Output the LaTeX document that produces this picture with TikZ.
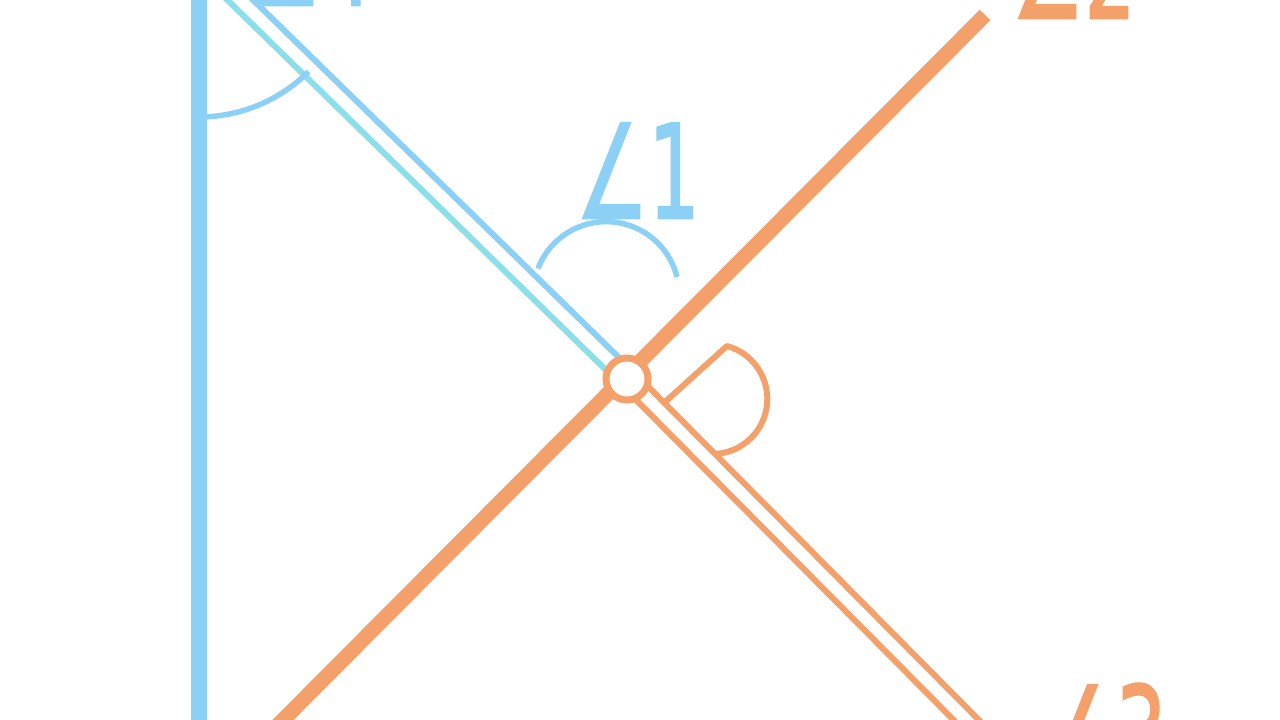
\documentclass[tikz,border=0pt]{standalone}
\usepackage{fontspec}
\newfontfamily\dejavu[FakeBold=2]{DejaVu Sans}
\definecolor{skyb}{RGB}{141,208,245}
\definecolor{cyanl}{RGB}{140,222,232}
\definecolor{orng}{RGB}{244,160,106}
\tikzset{
  thickline/.style={line width=15pt},
  thinline/.style={line width=6pt},
  anglabel/.style={inner sep=0pt, anchor=base west, font=\fontsize{130}{130}\selectfont\dejavu},
  arcmark/.style={line width=5.5pt},
}
\newcommand{\angtext}[1]{\scalebox{0.62}[1]{#1}}
\begin{document}
\begin{tikzpicture}[x=1pt,y=-1pt]
\useasboundingbox (0,0) rectangle (1280,720);
\clip (0,0) rectangle (1280,720);
% key points
\coordinate (O) at (627,379);
% vertical blue line
\draw[skyb, line width=16pt] (199,-10) -- (199,730);
% blue/cyan double line (upper-left part)
\draw[skyb, thinline] (232.9,-19.8) -- (633.3,371.6);
\draw[cyanl, thinline] (220.3,-7.0) -- (620.7,384.4);
% orange double line (lower-right part)
\draw[orng, thinline] (633.4,371.7) -- (1006.4,747.7);
\draw[orng, thinline] (620.6,384.3) -- (993.6,760.3);
% main orange line
\draw[orng, thickline] (270,733) -- (985,15);
% angle arc top-left
\draw[skyb, arcmark] (199,117) arc[start angle=90, end angle=45, radius=155];
% angle arc 1
\draw[skyb, arcmark] (677,277) arc[start angle=-14, end angle=-159, radius=73];
% right-angle marker
\coordinate (A) at (665,402);
\coordinate (B) at (727,346);
\draw[orng, line width=6pt, line join=round] (A) -- (B) arc[start angle=-74.5, end angle=85, radius=55];
% intersection circle
\draw[orng, line width=7pt, fill=white] (O) circle[radius=21];
% labels
\node[anglabel, text=skyb] (l1) at (576,218) {\angtext{∠1}};
\node[anglabel, text=orng] (l2) at (1012,18) {\angtext{∠2}};
\node[anglabel, text=orng] (l3) at (1043,780) {\angtext{∠3}};
\node[anglabel, text=skyb] (l4) at (249,5) {\angtext{∠4}};
\end{tikzpicture}
\end{document}
